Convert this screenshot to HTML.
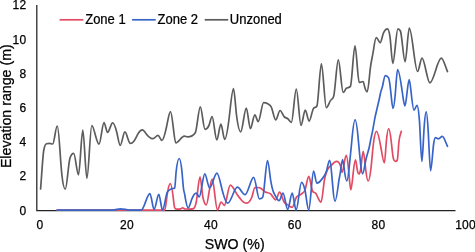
<!DOCTYPE html>
<html><head><meta charset="utf-8"><title>Elevation range vs SWO</title>
<style>
html,body{margin:0;padding:0;background:#fff;}
body{width:475px;height:252px;overflow:hidden;position:relative;font-family:"Liberation Sans",Arial,sans-serif;}
svg{position:absolute;left:0;top:0;display:block;}
svg text{font-family:"Liberation Sans",Arial,sans-serif;fill:#000;stroke:#000;stroke-width:0.25px;}
.tick{font-size:12px;letter-spacing:0.3px;}
.leg{font-size:14px;}
.ttl{font-size:14.2px;}
.ln{fill:none;stroke-width:1.7;stroke-linejoin:round;stroke-linecap:round;}
</style></head><body>
<svg width="475" height="252" viewBox="0 0 475 252">
<rect width="475" height="252" fill="#fff"/>
<path d="M36.8 5V210.5H455.5" fill="none" stroke="#222" stroke-width="1.25"/>
<path class="ln" stroke="#E24B64" d="M57.10 210.10C83.07 210.10 109.03 210.10 135.00 210.10C144.90 210.10 154.80 210.10 164.70 210.10C165.57 210.10 166.43 199.31 167.30 193.90C168.30 187.66 169.30 183.60 170.30 183.60C171.27 183.60 172.23 189.35 173.20 197.30C173.67 201.14 174.13 206.21 174.60 207.50C175.07 208.79 175.53 209.05 176.00 209.10C176.83 209.19 177.67 209.20 178.50 209.20C179.17 209.20 179.83 209.11 180.50 208.90C181.23 208.67 181.97 207.90 182.70 207.90C183.47 207.90 184.23 208.96 185.00 209.00C186.67 209.09 188.33 209.10 190.00 209.10C191.17 209.10 192.33 209.06 193.50 208.60C194.40 208.25 195.30 206.55 196.20 202.30C197.47 196.32 198.73 176.80 200.00 176.80C200.97 176.80 201.93 192.69 202.90 197.30C204.03 202.71 205.17 204.80 206.30 204.80C207.40 204.80 208.50 195.09 209.60 188.80C210.50 183.66 211.40 179.20 212.30 179.20C213.10 179.20 213.90 187.23 214.70 193.90C215.63 201.68 216.57 210.10 217.50 210.10C218.70 210.10 219.90 202.00 221.10 202.00C222.17 202.00 223.23 205.30 224.30 205.30C226.30 205.30 228.30 185.20 230.30 185.20C232.10 185.20 233.90 188.79 235.70 192.20C237.30 195.24 238.90 196.92 240.50 199.00C242.57 201.69 244.63 203.20 246.70 203.20C248.40 203.20 250.10 201.50 251.80 197.30C252.80 194.83 253.80 188.06 254.80 187.80C255.87 187.53 256.93 187.50 258.00 187.50C259.03 187.50 260.07 187.84 261.10 188.50C262.50 189.39 263.90 191.08 265.30 192.00C266.97 193.09 268.63 192.44 270.30 193.60C272.10 194.85 273.90 199.80 275.70 199.80C277.00 199.80 278.30 192.20 279.60 192.20C281.00 192.20 282.40 199.08 283.80 201.50C285.47 204.38 287.13 204.26 288.80 205.70C289.93 206.68 291.07 207.40 292.20 207.40C293.60 207.40 295.00 199.38 296.40 197.30C298.10 194.77 299.80 195.86 301.50 193.90C302.60 192.63 303.70 192.91 304.80 190.50C306.13 187.57 307.47 176.40 308.80 176.40C310.03 176.40 311.27 188.81 312.50 191.00C313.63 193.01 314.77 191.98 315.90 193.60C317.60 196.03 319.30 202.10 321.00 202.10C322.13 202.10 323.27 187.22 324.40 180.20C325.37 174.21 326.33 172.82 327.30 170.30C328.87 166.22 330.43 166.53 332.00 164.60C333.60 162.63 335.20 161.30 336.80 161.30C337.97 161.30 339.13 162.15 340.30 165.30C340.87 166.83 341.43 172.50 342.00 172.50C343.40 172.50 344.80 155.40 346.20 155.40C347.07 155.40 347.93 162.89 348.80 172.00C349.47 179.01 350.13 189.90 350.80 189.90C351.63 189.90 352.47 179.24 353.30 172.00C354.03 165.63 354.77 159.90 355.50 159.90C356.23 159.90 356.97 169.77 357.70 172.00C358.17 173.42 358.63 174.00 359.10 174.00C359.57 174.00 360.03 172.53 360.50 170.00C361.40 165.12 362.30 151.40 363.20 151.40C364.13 151.40 365.07 165.21 366.00 172.00C366.73 177.34 367.47 181.00 368.20 181.00C369.13 181.00 370.07 176.32 371.00 168.00C371.87 160.27 372.73 148.60 373.60 142.00C374.57 134.64 375.53 131.30 376.50 131.30C378.00 131.30 379.50 139.53 381.00 148.00C382.13 154.40 383.27 162.90 384.40 162.90C385.03 162.90 385.67 148.62 386.30 142.00C387.10 133.64 387.90 128.70 388.70 128.70C389.57 128.70 390.43 134.49 391.30 142.00C392.03 148.36 392.77 156.72 393.50 159.00C394.10 160.87 394.70 161.40 395.30 161.40C395.97 161.40 396.63 161.27 397.30 160.00C397.83 158.98 398.37 146.91 398.90 142.00C399.70 134.64 400.50 134.87 401.30 131.30"/>
<path class="ln" stroke="#3864C8" d="M57.10 210.10C75.07 210.10 93.03 210.10 111.00 210.10C112.17 210.10 113.33 210.03 114.50 209.90C116.50 209.67 118.50 208.90 120.50 208.90C122.83 208.90 125.17 209.52 127.50 209.80C129.00 209.98 130.50 210.10 132.00 210.10C135.07 210.10 138.13 210.10 141.20 210.10C144.10 210.10 147.00 193.60 149.90 193.60C151.30 193.60 152.70 209.40 154.10 209.40C155.67 209.40 157.23 194.40 158.80 194.40C160.03 194.40 161.27 210.10 162.50 210.10C164.10 210.10 165.70 195.14 167.30 192.20C168.70 189.63 170.10 189.53 171.50 188.80C172.57 188.24 173.63 188.75 174.70 188.00C175.17 187.67 175.63 176.37 176.10 172.00C177.13 162.33 178.17 158.50 179.20 158.50C180.13 158.50 181.07 162.64 182.00 172.00C182.43 176.34 182.87 182.54 183.30 187.00C183.80 192.15 184.30 191.84 184.80 195.00C185.93 202.16 187.07 207.80 188.20 207.80C189.43 207.80 190.67 201.91 191.90 198.90C193.33 195.41 194.77 193.10 196.20 193.10C197.20 193.10 198.20 196.90 199.20 196.90C201.07 196.90 202.93 173.80 204.80 173.80C206.40 173.80 208.00 188.00 209.60 188.00C212.03 188.00 214.47 173.20 216.90 173.20C218.70 173.20 220.50 183.66 222.30 190.50C224.10 197.34 225.90 203.20 227.70 203.20C230.93 203.20 234.17 187.20 237.40 187.20C239.97 187.20 242.53 194.70 245.10 194.70C247.97 194.70 250.83 177.30 253.70 177.30C255.60 177.30 257.50 198.90 259.40 198.90C260.50 198.90 261.60 198.77 262.70 197.30C263.53 196.19 264.37 185.88 265.20 177.00C265.97 168.83 266.73 160.50 267.50 160.50C268.40 160.50 269.30 169.61 270.20 177.00C270.80 181.93 271.40 184.20 272.00 187.20C273.40 194.20 274.80 194.34 276.20 197.30C277.17 199.35 278.13 200.60 279.10 200.60C280.40 200.60 281.70 193.10 283.00 193.10C284.57 193.10 286.13 209.40 287.70 209.40C289.20 209.40 290.70 193.10 292.20 193.10C293.50 193.10 294.80 210.10 296.10 210.10C297.90 210.10 299.70 182.40 301.50 182.40C302.67 182.40 303.83 185.13 305.00 190.30C306.23 195.76 307.47 210.10 308.70 210.10C310.33 210.10 311.97 171.20 313.60 171.20C314.67 171.20 315.73 183.20 316.80 183.20C318.47 183.20 320.13 181.83 321.80 179.30C323.37 176.92 324.93 176.24 326.50 171.00C327.53 167.54 328.57 160.30 329.60 160.30C330.23 160.30 330.87 164.76 331.50 172.00C331.93 176.95 332.37 181.75 332.80 186.90C333.53 195.62 334.27 201.20 335.00 201.20C336.23 201.20 337.47 191.34 338.70 181.80C339.27 177.42 339.83 176.52 340.40 172.00C341.13 166.15 341.87 159.60 342.60 159.60C343.27 159.60 343.93 167.38 344.60 172.00C345.33 177.08 346.07 181.00 346.80 181.00C347.57 181.00 348.33 175.71 349.10 168.00C349.97 159.29 350.83 151.65 351.70 142.00C352.83 129.38 353.97 119.90 355.10 119.90C356.23 119.90 357.37 129.11 358.50 142.00C359.20 149.96 359.90 157.07 360.60 163.70C361.27 170.01 361.93 173.80 362.60 173.80C363.47 173.80 364.33 168.02 365.20 163.00C366.90 153.15 368.60 152.84 370.30 142.00C371.30 135.62 372.30 133.82 373.30 127.00C375.63 111.08 377.97 107.06 380.30 94.00C381.13 89.34 381.97 89.29 382.80 85.00C383.63 80.71 384.47 75.60 385.30 75.60C386.40 75.60 387.50 75.85 388.60 77.80C389.40 79.22 390.20 86.19 391.00 94.00C391.67 100.51 392.33 108.40 393.00 108.40C393.73 108.40 394.47 102.91 395.20 95.00C396.00 86.37 396.80 69.60 397.60 69.60C399.30 69.60 401.00 83.18 402.70 95.00C403.43 100.10 404.17 105.90 404.90 105.90C405.60 105.90 406.30 99.02 407.00 93.00C407.73 86.70 408.47 79.50 409.20 79.50C409.90 79.50 410.60 87.69 411.30 94.00C412.20 102.11 413.10 110.20 414.00 110.20C415.00 110.20 416.00 105.30 417.00 105.30C417.80 105.30 418.60 110.18 419.40 120.30C420.23 130.84 421.07 161.50 421.90 161.50C422.63 161.50 423.37 138.49 424.10 128.00C424.80 117.99 425.50 111.80 426.20 111.80C426.90 111.80 427.60 120.79 428.30 133.00C429.07 146.38 429.83 170.80 430.60 170.80C431.63 170.80 432.67 150.41 433.70 143.50C434.27 139.71 434.83 137.60 435.40 137.60C436.43 137.60 437.47 138.80 438.50 138.80C439.77 138.80 441.03 136.40 442.30 136.40C444.03 136.40 445.77 143.00 447.50 146.30"/>
<path class="ln" stroke="#5c5c5c" d="M40.60 189.00C41.67 176.00 42.73 155.74 43.80 150.00C44.70 145.16 45.60 143.95 46.50 143.70C47.50 143.43 48.50 143.40 49.50 143.40C50.57 143.40 51.63 144.00 52.70 144.00C54.20 144.00 55.70 126.00 57.20 126.00C58.13 126.00 59.07 137.18 60.00 151.00C60.63 160.38 61.27 169.19 61.90 175.00C63.03 185.40 64.17 189.10 65.30 189.10C66.87 189.10 68.43 162.47 70.00 158.00C71.23 154.48 72.47 153.40 73.70 153.40C75.30 153.40 76.90 174.90 78.50 174.90C79.93 174.90 81.37 130.20 82.80 130.20C84.17 130.20 85.53 178.30 86.90 178.30C88.53 178.30 90.17 125.50 91.80 125.50C93.07 125.50 94.33 131.44 95.60 136.00C96.73 140.08 97.87 144.20 99.00 144.20C100.67 144.20 102.33 122.60 104.00 122.60C105.20 122.60 106.40 132.50 107.60 132.50C109.27 132.50 110.93 122.80 112.60 122.80C114.03 122.80 115.47 126.94 116.90 132.80C118.00 137.30 119.10 145.40 120.20 145.40C121.77 145.40 123.33 131.90 124.90 131.90C126.70 131.90 128.50 143.40 130.30 143.40C131.50 143.40 132.70 142.71 133.90 141.20C135.32 139.42 136.73 135.92 138.15 133.60C139.57 131.28 140.98 129.90 142.40 129.90C143.82 129.90 145.23 132.59 146.65 134.50C148.07 136.41 149.48 137.50 150.90 138.20C151.60 138.54 152.30 138.70 153.00 138.70C154.67 138.70 156.33 135.30 158.00 135.30C159.30 135.30 160.60 140.40 161.90 140.40C163.43 140.40 164.97 134.12 166.50 127.00C167.83 120.81 169.17 111.70 170.50 111.70C171.40 111.70 172.30 119.47 173.20 126.90C174.07 134.06 174.93 143.00 175.80 143.00C178.63 143.00 181.47 136.10 184.30 136.10C185.43 136.10 186.57 136.90 187.70 136.90C190.23 136.90 192.77 136.45 195.30 132.70C196.97 130.23 198.63 106.90 200.30 106.90C201.87 106.90 203.43 129.30 205.00 129.30C206.23 129.30 207.47 128.34 208.70 126.00C209.83 123.85 210.97 116.70 212.10 116.70C213.67 116.70 215.23 139.90 216.80 139.90C218.17 139.90 219.53 124.20 220.90 124.20C222.17 124.20 223.43 139.40 224.70 139.40C226.10 139.40 227.50 130.75 228.90 120.00C230.43 108.22 231.97 88.70 233.50 88.70C234.50 88.70 235.50 107.15 236.50 115.00C237.90 126.00 239.30 131.80 240.70 131.80C242.57 131.80 244.43 108.20 246.30 108.20C247.67 108.20 249.03 128.70 250.40 128.70C251.87 128.70 253.33 114.90 254.80 114.90C255.93 114.90 257.07 121.60 258.20 121.60C260.00 121.60 261.80 102.60 263.60 102.60C265.00 102.60 266.40 102.94 267.80 103.80C268.93 104.50 270.07 104.70 271.20 106.80C272.70 109.58 274.20 119.90 275.70 119.90C277.17 119.90 278.63 110.50 280.10 110.50C281.43 110.50 282.77 115.02 284.10 116.60C285.40 118.15 286.70 117.54 288.00 118.90C289.13 120.08 290.27 122.30 291.40 122.30C293.03 122.30 294.67 89.00 296.30 89.00C297.87 89.00 299.43 125.30 301.00 125.30C302.43 125.30 303.87 110.20 305.30 110.20C306.57 110.20 307.83 121.10 309.10 121.10C310.53 121.10 311.97 110.93 313.40 108.60C314.57 106.71 315.73 108.17 316.90 106.00C318.40 103.21 319.90 63.80 321.40 63.80C323.03 63.80 324.67 107.70 326.30 107.70C327.60 107.70 328.90 103.68 330.20 101.00C331.33 98.67 332.47 99.99 333.60 96.60C335.17 91.91 336.73 59.80 338.30 59.80C339.93 59.80 341.57 92.50 343.20 92.50C344.20 92.50 345.20 89.42 346.20 88.40C347.60 86.98 349.00 88.15 350.40 86.40C351.93 84.49 353.47 45.80 355.00 45.80C356.40 45.80 357.80 82.40 359.20 82.40C360.50 82.40 361.80 81.50 363.10 81.50C363.63 81.50 364.17 85.12 364.70 87.00C365.53 89.94 366.37 91.80 367.20 91.80C368.17 91.80 369.13 79.17 370.10 70.20C371.23 59.68 372.37 57.98 373.50 50.00C374.43 43.43 375.37 37.70 376.30 37.70C377.60 37.70 378.90 42.70 380.20 42.70C381.33 42.70 382.47 34.96 383.60 32.60C384.90 29.90 386.20 28.80 387.50 28.80C388.33 28.80 389.17 31.26 390.00 36.80C390.93 43.00 391.87 63.50 392.80 63.50C394.50 63.50 396.20 28.80 397.90 28.80C398.73 28.80 399.57 29.32 400.40 31.00C401.97 34.16 403.53 61.80 405.10 61.80C406.50 61.80 407.90 28.10 409.30 28.10C412.07 28.10 414.83 71.50 417.60 71.50C419.07 71.50 420.53 58.10 422.00 58.10C424.63 58.10 427.27 82.80 429.90 82.80C433.70 82.80 437.50 58.10 441.30 58.10C443.37 58.10 445.43 67.10 447.50 71.60"/>
<g class="tick" text-anchor="end">
<text x="26.5" y="214.5">0</text>
<text x="26.5" y="180.3">2</text>
<text x="26.5" y="146.1">4</text>
<text x="26.5" y="112">6</text>
<text x="26.5" y="77.8">8</text>
<text x="26.5" y="43.6">10</text>
<text x="26.5" y="9.4">12</text>
</g>
<g class="tick" text-anchor="middle">
<text x="40" y="228.7">0</text>
<text x="127.1" y="228.7">20</text>
<text x="210.9" y="228.7">40</text>
<text x="294.7" y="228.7">60</text>
<text x="378.4" y="228.7">80</text>
<text x="465.6" y="228.7">100</text>
</g>
<text class="ttl" text-anchor="middle" x="234.7" y="248.7">SWO (%)</text>
<text class="ttl" text-anchor="middle" transform="translate(11.4 106.2) rotate(-90)">Elevation range (m)</text>
<g class="leg">
<path d="M59.6 19.8H83.4" stroke="#E24B64" stroke-width="1.7" fill="none"/>
<text transform="translate(85.2 24.3) scale(0.93 1)">Zone 1</text>
<path d="M132.1 19.8H155.7" stroke="#3864C8" stroke-width="1.7" fill="none"/>
<text transform="translate(157.5 24.3) scale(0.93 1)">Zone 2</text>
<path d="M204.7 19.8H228.2" stroke="#5c5c5c" stroke-width="1.7" fill="none"/>
<text transform="translate(229.8 24.3) scale(0.93 1)">Unzoned</text>
</g>
</svg>
</body></html>
